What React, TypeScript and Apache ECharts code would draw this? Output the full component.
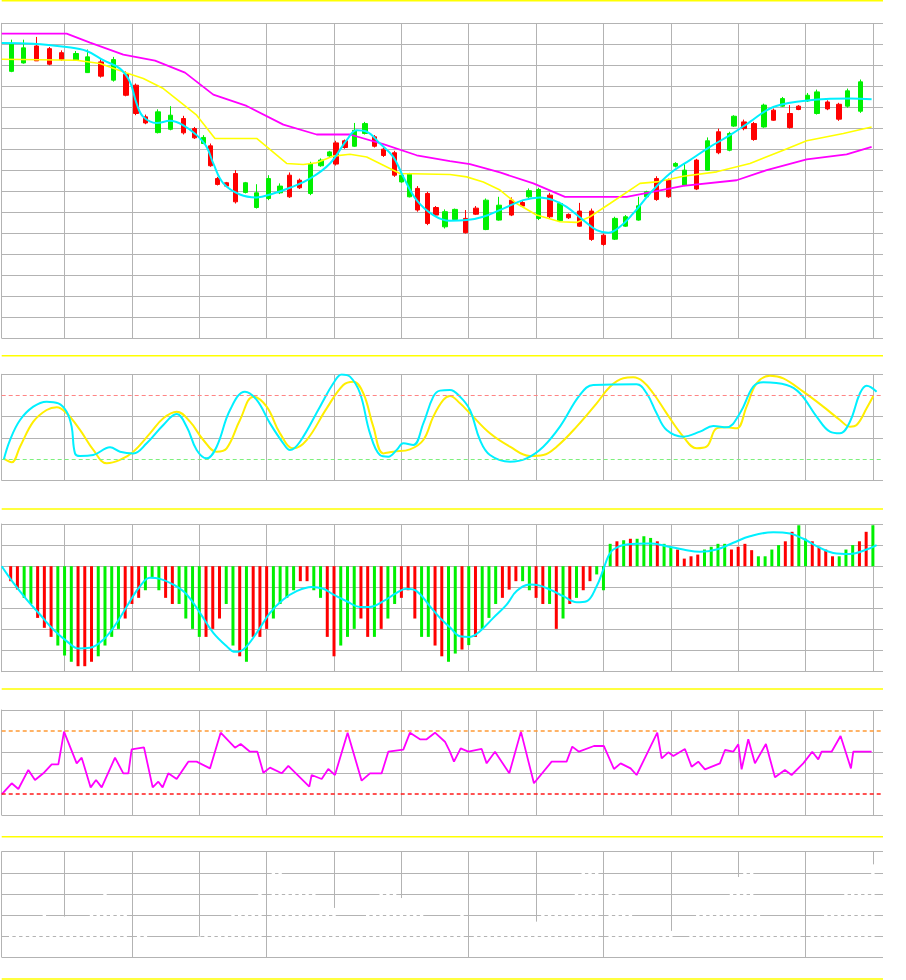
import React, { useEffect, useRef } from "react";
import * as echarts from "echarts";

// ---- x is measured in "bar slots" of the indicator panels ----
const X_MIN = -1.333;
const X_MAX = 129.5;
const xGridLines = [8, 18, 28, 38, 48, 58, 68, 78, 88, 98, 108, 118, 128];

// ---- main panel: candles ----
const candleX = [0.15, 1.88, 3.86, 5.74, 7.57, 9.7, 11.43, 13.41, 15.24, 17.12, 18.6, 19.99, 21.87, 23.75, 25.63, 27.26, 28.65, 29.69, 30.68, 32.06, 33.35, 34.83, 36.52, 38.25, 39.98, 41.37, 42.85, 44.53, 46.07, 47.3, 48.29, 49.63, 51.01, 52.6, 53.98, 55.32, 56.95, 58.04, 59.18, 60.37, 61.85, 63.14, 64.47, 65.96, 67.54, 69.07, 70.56, 72.49, 74.37, 76.0, 76.94, 78.33, 80.06, 81.54, 82.78, 84.41, 86.24, 87.98, 89.71, 91.29, 93.17, 94.41, 95.89, 97.63, 98.71, 100.0, 101.83, 103.46, 105.05, 106.68, 107.37, 108.86, 110.34, 111.83, 113.21, 114.55, 115.73, 116.92, 118.31, 119.69, 121.28, 122.96, 124.2, 126.13];
const candleOpen = [127.1, 131.1, 139.2, 137.9, 136.0, 132.4, 126.5, 131.6, 122.9, 125.7, 120.5, 105.4, 97.9, 99.5, 104.6, 99.8, 92.7, 91.6, 76.0, 74.0, 78.4, 69.4, 62.2, 66.5, 69.2, 77.6, 75.2, 68.9, 82.1, 86.8, 93.0, 94.0, 91.4, 97.5, 95.9, 90.0, 88.3, 74.4, 67.3, 71.3, 68.9, 62.2, 53.0, 56.5, 57.0, 61.9, 51.7, 56.2, 65.7, 64.6, 67.3, 57.0, 68.1, 55.9, 58.9, 60.5, 60.5, 49.0, 47.1, 53.3, 56.2, 67.3, 76.0, 75.2, 81.9, 72.9, 84.8, 80.0, 98.3, 89.5, 101.0, 103.0, 102.2, 100.6, 108.6, 110.5, 107.0, 110.5, 113.0, 107.0, 112.5, 111.4, 110.5, 108.1];
const candleClose = [140.3, 138.3, 132.1, 130.5, 132.7, 135.6, 134.0, 124.8, 132.7, 115.7, 107.0, 102.5, 107.8, 106.2, 97.8, 95.4, 95.6, 82.1, 73.2, 72.4, 64.9, 74.0, 69.2, 76.0, 72.4, 67.3, 71.6, 82.9, 84.8, 88.7, 82.9, 90.8, 99.0, 102.2, 91.4, 87.0, 77.6, 77.6, 78.1, 61.0, 54.6, 58.6, 60.2, 61.3, 50.2, 59.0, 65.7, 63.3, 58.6, 62.9, 70.2, 70.8, 57.8, 64.1, 57.3, 53.3, 47.0, 44.6, 57.0, 57.8, 63.0, 69.7, 66.0, 67.3, 83.2, 80.0, 71.0, 94.0, 88.3, 97.5, 105.7, 99.8, 94.6, 111.0, 103.8, 114.1, 100.3, 108.9, 115.7, 117.3, 109.2, 104.3, 117.8, 122.1];
const candleLow = [126.7, 130.8, 132.1, 130.0, 132.1, 132.1, 126.3, 124.1, 122.2, 115.2, 106.2, 101.9, 97.5, 99.0, 97.0, 94.9, 92.4, 81.6, 72.7, 72.1, 64.1, 68.9, 61.7, 65.7, 68.6, 66.8, 71.0, 68.1, 81.6, 86.3, 82.2, 90.2, 91.1, 97.0, 90.8, 86.3, 76.8, 74.0, 67.0, 60.2, 53.8, 58.1, 52.2, 56.2, 49.8, 58.6, 51.4, 55.9, 58.1, 62.4, 66.8, 56.2, 57.0, 55.4, 56.7, 53.0, 46.3, 44.0, 46.7, 53.0, 55.9, 67.0, 65.4, 66.8, 81.3, 72.4, 70.5, 79.7, 87.6, 89.0, 100.6, 99.0, 94.0, 100.2, 103.5, 110.2, 99.8, 108.6, 112.5, 106.5, 108.6, 103.5, 109.8, 107.3];
const candleHigh = [142.2, 142.2, 143.5, 138.7, 137.1, 136.8, 137.5, 133.2, 134.0, 127.1, 121.3, 106.5, 109.0, 110.5, 105.9, 100.6, 96.7, 92.7, 76.8, 74.4, 80.0, 74.4, 73.3, 77.6, 73.7, 78.9, 76.0, 84.0, 85.6, 89.2, 94.0, 94.6, 102.5, 103.0, 96.7, 91.1, 89.2, 78.7, 78.7, 72.4, 69.7, 62.9, 61.3, 61.7, 61.0, 62.9, 66.5, 67.3, 67.0, 65.4, 71.3, 71.6, 69.2, 64.9, 59.4, 64.4, 61.7, 49.8, 57.8, 58.6, 67.3, 70.2, 77.1, 76.0, 83.8, 83.2, 85.4, 95.6, 99.8, 98.3, 106.2, 104.1, 103.0, 111.7, 109.4, 114.9, 111.0, 111.0, 116.8, 118.4, 113.3, 112.1, 118.9, 123.2];

// ---- main panel: bands / averages [x, value] ----
const upperBand: [number, number][] = [[-1.33, 145.1], [8.31, 145.1], [11.78, 140.8], [16.72, 135.1], [21.43, 132.2], [25.88, 126.5], [30.08, 116.0], [35.03, 110.6], [40.48, 101.7], [45.42, 97.0], [50.37, 97.0], [55.32, 92.4], [60.27, 87.1], [65.21, 84.3], [68.18, 82.9], [72.64, 78.9], [77.59, 73.7], [82.29, 67.3], [91.44, 67.3], [99.85, 72.5], [107.77, 75.2], [112.23, 80.0], [118.17, 85.1], [124.1, 87.5], [127.81, 91.1]];
const midLine: [number, number][] = [[-1.33, 132.9], [9.8, 132.4], [13.26, 130.8], [17.22, 126.3], [19.69, 123.7], [22.66, 118.9], [27.61, 106.2], [30.33, 95.1], [36.52, 95.1], [40.97, 83.2], [43.44, 82.7], [45.42, 83.5], [47.9, 86.7], [50.37, 87.6], [52.85, 86.3], [57.79, 78.4], [65.21, 77.9], [67.69, 76.8], [70.16, 74.4], [72.64, 70.5], [75.11, 64.1], [78.08, 58.6], [81.54, 55.4], [84.02, 55.1], [86.0, 57.8], [88.97, 64.1], [93.42, 73.7], [95.89, 74.4], [99.85, 77.1], [104.8, 79.2], [109.75, 83.2], [114.7, 89.5], [118.17, 94.0], [123.61, 97.5], [127.81, 100.6]];
const fastLine: [number, number][] = [[-1.33, 140.6], [3.36, 140.3], [8.31, 138.7], [11.28, 136.8], [13.76, 132.4], [16.23, 128.4], [17.71, 122.1], [18.7, 111.7], [19.69, 105.4], [21.67, 102.5], [23.65, 103.5], [25.63, 101.4], [27.61, 96.7], [29.09, 91.1], [30.08, 83.2], [31.57, 73.7], [34.04, 68.4], [36.52, 67.0], [38.99, 68.9], [41.46, 71.6], [44.43, 76.0], [47.4, 83.2], [49.88, 94.3], [51.36, 99.0], [52.85, 98.3], [54.82, 92.7], [56.8, 86.3], [58.29, 76.8], [60.27, 65.7], [62.74, 58.6], [65.21, 55.9], [67.69, 56.2], [70.16, 57.8], [73.13, 61.7], [76.1, 65.7], [78.57, 67.0], [80.55, 65.7], [82.53, 62.5], [85.0, 56.2], [86.98, 51.4], [88.71, 50.2], [90.44, 53.0], [92.42, 59.4], [94.9, 68.9], [97.87, 78.4], [100.84, 84.8], [103.81, 91.1], [106.78, 96.7], [109.75, 103.0], [112.72, 109.4], [115.69, 112.1], [118.66, 113.3], [121.63, 114.0], [124.6, 114.1], [127.81, 113.8]];

// ---- stochastic panel ----
const stochK: [number, number][] = [[-1.04, 19.2], [-0.1, 38.0], [1.39, 56.9], [3.36, 69.5], [5.34, 74.2], [7.08, 72.6], [8.31, 64.7], [9.05, 50.6], [9.55, 25.4], [10.29, 22.9], [12.27, 23.9], [14.75, 31.1], [16.23, 27.0], [18.21, 25.4], [20.19, 34.9], [22.66, 52.2], [24.64, 62.5], [26.13, 50.6], [27.61, 28.6], [29.09, 20.7], [30.58, 31.7], [32.56, 66.3], [34.78, 83.6], [36.52, 75.8], [38.5, 53.7], [40.47, 34.9], [41.46, 28.6], [42.95, 36.4], [45.92, 69.5], [47.9, 91.5], [49.13, 99.9], [50.37, 97.8], [51.86, 82.1], [53.34, 44.3], [54.82, 23.9], [56.06, 22.3], [57.3, 28.6], [58.29, 34.9], [59.77, 33.3], [61.26, 53.7], [62.74, 78.9], [63.73, 84.6], [65.21, 85.2], [66.7, 78.9], [68.18, 66.3], [69.67, 38.0], [71.15, 23.9], [74.12, 17.6], [76.59, 20.7], [79.07, 31.7], [81.54, 50.6], [84.51, 80.5], [86.49, 89.9], [92.92, 90.5], [94.41, 82.1], [95.89, 63.2], [97.38, 47.5], [99.85, 41.2], [102.33, 45.9], [104.3, 51.2], [106.28, 50.0], [108.26, 63.2], [110.24, 88.3], [111.73, 92.4], [115.19, 89.9], [117.17, 82.1], [119.64, 60.1], [121.62, 45.9], [123.11, 44.3], [124.59, 55.3], [126.08, 82.1], [127.07, 89.3], [128.55, 83.6]];
const stochD: [number, number][] = [[-1.04, 20.7], [0.15, 17.0], [1.39, 31.7], [3.36, 55.3], [5.34, 66.3], [6.83, 68.9], [8.31, 63.2], [10.29, 47.5], [12.27, 28.6], [14.25, 16.0], [16.23, 19.2], [18.21, 27.0], [20.68, 44.3], [22.66, 58.5], [24.64, 64.7], [26.62, 55.3], [28.6, 38.0], [30.58, 27.0], [32.06, 30.2], [34.04, 56.9], [36.02, 78.9], [38.0, 69.5], [39.98, 44.3], [41.96, 30.2], [43.94, 38.0], [46.91, 67.9], [49.38, 89.9], [50.87, 93.0], [52.35, 82.1], [53.83, 50.6], [55.32, 25.4], [56.8, 27.0], [59.28, 29.2], [61.26, 38.0], [62.74, 60.1], [64.23, 75.8], [65.21, 79.5], [66.7, 72.6], [68.18, 63.2], [71.15, 44.3], [74.12, 31.7], [77.09, 22.9], [79.07, 23.9], [81.05, 31.7], [84.02, 50.6], [86.99, 72.6], [88.97, 88.3], [90.94, 96.2], [92.43, 97.1], [93.91, 93.0], [95.39, 82.1], [97.38, 63.2], [99.85, 41.2], [101.83, 30.2], [103.3, 31.7], [104.8, 49.0], [106.28, 50.0], [107.77, 49.0], [109.25, 69.5], [110.74, 91.5], [112.72, 98.7], [114.7, 96.2], [117.66, 83.6], [120.63, 69.5], [123.11, 56.9], [124.59, 50.6], [125.58, 52.2], [127.07, 67.9], [128.06, 79.5]];
const stochLevels = [80, 20];

// ---- MACD panel ----
const macdHist = [
  -0.71, -1.11, -1.5, -1.79, -2.45, -2.92, -3.35, -3.76, -4.23, -4.53,
  -4.74, -4.74, -4.53, -4.27, -3.76, -3.35, -2.97, -2.48, -1.79, -1.5,
  -1.14, -0.51, -1.14, -1.5, -1.79, -1.79, -2.48, -2.97, -3.35, -3.35,
  -2.97, -2.48, -1.79, -3.76, -4.27, -4.53, -3.35, -3.35, -2.97, -2.48,
  -1.79, -1.5, -1.14, -0.71, -0.71, -1.14, -1.5, -3.35, -4.27, -3.76,
  -3.35, -2.97, -2.48, -3.35, -3.35, -2.97, -2.48, -1.79, -1.5, -1.14,
  -2.48, -3.35, -3.35, -3.76, -4.27, -4.53, -4.14, -3.95, -3.74, -3.35,
  -2.97, -2.45, -1.79, -1.5, -1.11, -0.71, -0.71, -1.14, -1.5, -1.79,
  -1.79, -2.97, -2.48, -1.79, -1.5, -1.14, -0.71, -0.39, -1.14, 1.06,
  1.18, 1.23, 1.3, 1.3, 1.42, 1.34, 1.18, 1.06, 0.92, 0.79,
  0.36, 0.47, 0.55, 0.79, 0.92, 1.06, 1.06, 0.79, 0.92, 1.06,
  0.76, 0.47, 0.47, 0.79, 1.0, 1.18, 1.63, 1.94, 1.3, 1.18,
  0.92, 0.79, 0.47, 0.47, 0.79, 1.0, 1.18, 1.63, 1.94,
];
const macdHistColor =
  "RRGGRRRGGG" + "RRRGGGGRRR" + "GGGRRGGGGR" + "RRGGRGRRRG" + "GGGRRGGRRG" +
  "GGRRGRGGRR" + "RGGRRG" + "GRGR" + "GGGRRRGGRR" + "GRGRGRRGGG" +
  "RGRGGGRGGR" + "RRRGGGGRRR" + "RGGGGRRGGR" + "RRRGGGRRG";
const macdSignal: [number, number][] = [[-1.33, 0], [0.4, -0.79], [2.38, -1.58], [4.35, -2.29], [6.33, -3.0], [8.31, -3.55], [10.04, -3.9], [11.78, -3.87], [13.76, -3.48], [15.73, -2.69], [17.71, -1.66], [19.2, -0.95], [20.68, -0.55], [22.17, -0.6], [24.15, -0.87], [26.13, -1.34], [28.1, -2.21], [30.08, -3.16], [32.06, -3.79], [33.3, -4.06], [34.54, -3.95], [36.52, -3.16], [38.5, -2.21], [40.47, -1.58], [42.45, -1.18], [44.68, -0.98], [46.41, -1.07], [47.9, -1.34], [49.88, -1.66], [51.86, -1.93], [53.34, -1.93], [55.32, -1.66], [57.3, -1.26], [58.78, -1.07], [60.27, -1.18], [62.25, -1.9], [63.73, -2.45], [65.21, -2.89], [66.7, -3.32], [68.18, -3.35], [69.67, -3.08], [71.65, -2.45], [73.63, -1.82], [75.11, -1.18], [77.09, -0.87], [78.57, -0.92], [80.06, -1.11], [82.04, -1.42], [84.02, -1.71], [85.5, -1.66], [86.99, -0.95], [87.98, -0.16], [88.72, 0.47], [89.46, 0.79], [91.44, 1.03], [94.9, 1.07], [97.38, 0.95], [99.85, 0.79], [102.33, 0.68], [104.8, 0.79], [107.28, 1.11], [109.75, 1.42], [113.21, 1.61], [115.69, 1.55], [117.66, 1.3], [119.64, 0.95], [122.11, 0.63], [124.59, 0.58], [127.07, 0.79], [128.55, 1.0]];

// ---- RSI panel ----
const rsi: [number, number][] = [[-1.33, 19.7], [0.15, 30.2], [1.14, 24.8], [2.62, 42.9], [3.61, 33.3], [4.85, 39.7], [6.09, 48.3], [7.08, 48.3], [7.92, 79.4], [9.8, 49.2], [10.54, 54.6], [11.87, 26.3], [12.67, 33.3], [13.51, 26.3], [15.49, 54.6], [16.72, 39.7], [17.47, 39.7], [17.96, 62.5], [19.79, 64.4], [21.08, 26.3], [21.92, 31.7], [22.56, 26.3], [23.4, 39.7], [24.64, 34.3], [26.37, 50.8], [27.61, 50.8], [29.59, 44.4], [31.17, 78.4], [33.3, 64.1], [34.14, 67.6], [35.53, 60.3], [36.62, 60.3], [37.51, 40.3], [38.5, 45.1], [40.23, 39.7], [41.22, 46.7], [44.33, 27.0], [44.68, 38.1], [46.17, 34.3], [47.15, 43.8], [48.14, 38.1], [50.02, 78.4], [52.1, 32.7], [53.34, 39.7], [55.07, 39.7], [56.06, 60.3], [58.29, 62.2], [59.28, 78.4], [60.76, 72.1], [61.75, 72.1], [62.99, 78.4], [64.47, 69.8], [65.21, 60.3], [65.81, 50.8], [66.8, 63.5], [67.94, 60.3], [69.92, 62.9], [70.66, 49.2], [71.9, 60.3], [74.02, 39.7], [75.75, 79.4], [77.68, 30.2], [80.31, 50.8], [82.53, 50.8], [83.37, 65.1], [84.36, 60.3], [86.59, 65.7], [88.07, 65.7], [89.56, 43.8], [90.55, 49.2], [92.03, 44.4], [92.92, 38.1], [95.99, 78.4], [96.64, 54.0], [97.63, 59.7], [98.37, 56.2], [100.1, 62.9], [101.09, 46.0], [102.08, 50.8], [103.07, 43.5], [105.29, 49.2], [106.04, 61.9], [107.27, 60.3], [108.02, 67.3], [108.51, 43.5], [109.5, 72.1], [110.49, 49.2], [112.12, 67.6], [113.46, 35.9], [114.94, 42.9], [115.93, 38.1], [117.66, 49.2], [119.0, 60.3], [119.89, 53.0], [120.39, 60.3], [121.87, 60.3], [123.2, 75.2], [124.74, 44.4], [125.09, 60.3], [127.81, 60.3]];
const rsiLevels = [80, 20];

// ---- bottom panel: white volume bars ----
const volume = [
  1.4, 1.6, 1.5, 1.7, 1.5, 2.2, 1.6, 1.8, 1.92, 1.5, 1.7, 1.6,
  2.4, 2.6, 3.3, 2.5, 2.7, 2.3,
  0, 1.4, 1.6,
  0.6, 0.8, 0.5, 0.7, 0.9, 0.6, 0.8,
  0.97, 1.5, 1.3, 1.7, 1.4,
  2.3, 2.6, 2.4, 2.7,
  3.3, 0, 4.3, 4.2,
  3.4, 3.2, 3.5, 3.3, 3.1,
  2.6, 2.4, 2.33,
  1.6, 1.4, 1.7, 1.5,
  2.4, 2.6, 3.2, 3.3, 3.1,
  2.8, 2.5, 2.7, 2.4,
  1.5, 1.6, 1.4, 1.7, 1.5,
  2.2, 0,
  1.5, 1.7, 1.4, 1.6, 1.8, 1.5, 1.6, 1.4, 1.7,
  1.68,
  2.4, 2.6, 2.3, 2.7, 2.5,
  3.4, 4.2, 4.3, 4.1,
  0,
  3.3, 3.4,
  2.5, 2.4,
  1.5, 1.6, 1.7, 1.4, 1.6,
  1.24, 0.7, 0.8, 1.5,
  2.5, 2.3, 2.6, 2.4, 2.7,
  3.3, 3.8, 4.2, 4.3,
  2.5,
  1.5, 1.6, 1.4, 1.7, 1.5, 1.6, 0, 1.4, 1.7,
  2.5, 2.4, 2.6,
  3.4, 3.3, 3.5, 3.2,
  4.4,
];

// ---- styling ----
const GRAY = "#b3b3b3";
const UP = "#00f000";
const DOWN = "#ff0000";
const YELLOW = "#ffff00";
const CYAN = "#00f0ff";
const MAGENTA = "#ff00ff";
const separatorY = [0.7, 355.7, 509, 689, 836.7, 979];

const panels = [
  { top: 23.3, height: 314.7, min: 0, max: 150, interval: 10, lineColors: null as string[] | null },
  { top: 374.3, height: 106, min: 0, max: 100, interval: 20, lineColors: [GRAY, "rgba(0,0,0,0)", GRAY, GRAY, "rgba(0,0,0,0)", GRAY] },
  { top: 524, height: 147.7, min: -5, max: 2, interval: 1, lineColors: null },
  { top: 710, height: 105, min: 0, max: 100, interval: 20, lineColors: [GRAY, "rgba(0,0,0,0)", GRAY, GRAY, "rgba(0,0,0,0)", GRAY] },
  { top: 851.7, height: 105.3, min: 0, max: 5, interval: 1, lineColors: null },
];

function buildOption() {
  const grid = panels.map((p) => ({ left: 1.7, right: 23, top: p.top, height: p.height }));
  const xAxis = panels.map((_, i) => ({
    type: "value",
    gridIndex: i,
    min: X_MIN,
    max: X_MAX,
    axisLine: { show: false },
    axisTick: { show: false, customValues: xGridLines },
    axisLabel: { show: false },
    splitLine: { show: true, lineStyle: { color: GRAY, width: 1 } },
  }));
  const yAxis = panels.map((p, i) => ({
    type: "value",
    gridIndex: i,
    min: p.min,
    max: p.max,
    interval: p.interval,
    axisLine: { show: true, onZero: false, lineStyle: { color: GRAY, width: 1 } },
    axisTick: { show: false },
    axisLabel: { show: false },
    splitLine: { show: true, lineStyle: { color: p.lineColors || GRAY, width: 1 } },
  }));

  const candleData = candleX.map((x, i) => [x, candleOpen[i], candleClose[i], candleLow[i], candleHigh[i]]);
  const macdData = macdHist.map((v, i) => ({
    value: [i, v],
    itemStyle: { color: macdHistColor[i] === "G" ? UP : DOWN },
  }));
  const volData = volume.map((v, i) => [i, v]);

  const lineBase = { type: "line", showSymbol: false, symbol: "none", silent: true };

  const series: any[] = [
    {
      type: "candlestick",
      xAxisIndex: 0,
      yAxisIndex: 0,
      data: candleData,
      barWidth: 5,
      itemStyle: { color: UP, color0: DOWN, borderColor: UP, borderColor0: DOWN, borderWidth: 1 },
      silent: true,
    },
    { ...lineBase, xAxisIndex: 0, yAxisIndex: 0, data: upperBand, lineStyle: { color: MAGENTA, width: 1.8 } },
    { ...lineBase, xAxisIndex: 0, yAxisIndex: 0, data: midLine, lineStyle: { color: YELLOW, width: 1.6 } },
    { ...lineBase, xAxisIndex: 0, yAxisIndex: 0, data: fastLine, smooth: 0.4, lineStyle: { color: CYAN, width: 2 } },

    {
      ...lineBase, xAxisIndex: 1, yAxisIndex: 1, data: stochK, smooth: 0.4, lineStyle: { color: CYAN, width: 2 }, z: 4,
      markLine: {
        silent: true, symbol: "none", label: { show: false }, animation: false,
        data: [
          { yAxis: stochLevels[0], lineStyle: { color: "#ff8585", type: [4, 3], width: 1 } },
          { yAxis: stochLevels[1], lineStyle: { color: "#7ef07e", type: [4, 3], width: 1 } },
        ],
      },
    },
    { ...lineBase, xAxisIndex: 1, yAxisIndex: 1, data: stochD, smooth: 0.4, lineStyle: { color: "#ffee00", width: 2 }, z: 3 },

    { type: "bar", xAxisIndex: 2, yAxisIndex: 2, data: macdData, barWidth: 3, silent: true },
    { ...lineBase, xAxisIndex: 2, yAxisIndex: 2, data: macdSignal, smooth: 0.4, lineStyle: { color: CYAN, width: 2 }, z: 4 },

    {
      ...lineBase, xAxisIndex: 3, yAxisIndex: 3, data: rsi, lineStyle: { color: MAGENTA, width: 1.8 }, z: 4,
      markLine: {
        silent: true, symbol: "none", label: { show: false }, animation: false,
        data: [
          { yAxis: rsiLevels[0], lineStyle: { color: "#ff9a35", type: [4, 3], width: 1.5 } },
          { yAxis: rsiLevels[1], lineStyle: { color: "#ff1a1a", type: [4, 3], width: 1.5 } },
        ],
      },
    },

    { type: "bar", xAxisIndex: 4, yAxisIndex: 4, data: volData, barWidth: 3.4, itemStyle: { color: "#ffffff" }, silent: true },
  ];

  const graphic = separatorY.map((y) => ({
    type: "line",
    silent: true,
    z: 100,
    shape: { x1: 1.7, y1: y, x2: 883, y2: y },
    style: { stroke: YELLOW, lineWidth: 1.5 },
  }));

  return {
    animation: false,
    backgroundColor: "#ffffff",
    grid,
    xAxis,
    yAxis,
    series,
    graphic,
  };
}

export default function App() {
  const ref = useRef<HTMLDivElement>(null);
  useEffect(() => {
    if (!ref.current) return;
    const chart = echarts.init(ref.current, null, { renderer: "svg" });
    chart.setOption(buildOption() as any);
    return () => chart.dispose();
  }, []);
  return (
    <div
      ref={ref}
      style={{ position: "absolute", left: 0, top: 0, width: 906, height: 980, background: "#ffffff" }}
    />
  );
}
